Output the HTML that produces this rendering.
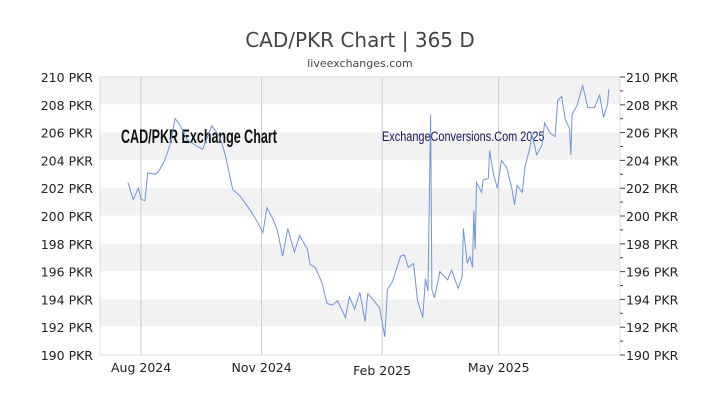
<!DOCTYPE html>
<html><head><meta charset="utf-8"><style>
body{margin:0;background:#fff;font-family:"Liberation Sans",sans-serif;}
svg text{font-family:"DejaVu Sans","Liberation Sans",sans-serif;}
</style></head><body>
<svg width="720" height="405" viewBox="0 0 720 405" xmlns="http://www.w3.org/2000/svg">
<rect width="720" height="405" fill="#fff"/>
<text x="360" y="47" text-anchor="middle" font-size="20" fill="#444">CAD/PKR Chart | 365 D</text>
<text x="360" y="67" text-anchor="middle" font-size="11" fill="#444">liveexchanges.com</text>
<g id="bands"></g>
<g id="grid"></g>
<rect x="100" y="77" width="520" height="278" fill="none" stroke="#ddd"/>
<g id="yaxis"></g>
<g id="xaxis"></g>
<text x="121" y="143" font-size="19" font-weight="bold" fill="#111" transform="translate(121 0) scale(0.66 1) translate(-121 0)" style="font-family:'Liberation Sans Narrow','Liberation Sans',sans-serif">CAD/PKR Exchange Chart</text>
<text x="382" y="141" font-size="14" fill="#1a1a5e" transform="translate(382 0) scale(0.78 1) translate(-382 0)" style="font-family:'Liberation Sans Narrow','Liberation Sans',sans-serif">ExchangeConversions.Com 2025</text>
<path id="line" fill="none" stroke="#7094dc" stroke-width="1"/>
</svg>
<script>
const days=[0,4,8,10,13,15,21,24,28,32,36,40,45,53,57,64,70,74,80,85,92,98,103,106,110,114,118,122,127,131,137,139,143,148,152,156,160,166,169,173,177,181,183,187,192,196,198,202,208,211,214,218,221,225,227,229,231,232,234,238,244,247,252,255,256,259,261,263,264,265,266,270,271,275,276,279,282,285,289,293,295,297,301,303,307,308,312,316,318,322,326,328,331,334,337,338,339,343,347,351,356,360,363,366,367];
const rates=[202.4,201.2,202.0,201.2,201.1,203.1,203.0,203.3,204.0,205.1,207.0,206.5,205.5,205.0,204.8,206.5,205.7,204.5,201.9,201.5,200.6,199.7,198.8,200.6,199.9,199.0,197.1,199.1,197.4,198.6,197.6,196.5,196.3,195.2,193.7,193.6,193.9,192.7,194.2,193.3,194.5,192.4,194.4,194.0,193.4,191.3,194.7,195.3,197.1,197.2,196.3,196.6,193.9,192.7,195.5,194.6,207.3,194.7,194.1,196.0,195.4,196.1,194.8,195.6,199.1,196.6,197.1,196.3,200.4,197.6,202.4,201.7,202.6,202.7,204.7,203.0,202.0,204.0,203.5,202.0,200.8,202.2,201.7,203.5,205.0,206.0,204.4,205.1,206.7,206.0,205.7,208.3,208.6,206.9,206.3,204.4,207.3,208.0,209.4,207.8,207.8,208.7,207.1,208.0,209.1];
const yTicks=[190,192,194,196,198,200,202,204,206,208,210];
const monthDays=[10,102,194,283];
const monthLabels=["Aug 2024","Nov 2024","Feb 2025","May 2025"];
const NS="http://www.w3.org/2000/svg";
const X=d=>128+d*1.31;
const Y=v=>355-(v-190)*13.9;
function mk(tag,attrs,parent,txt){const e=document.createElementNS(NS,tag);for(const k in attrs)e.setAttribute(k,attrs[k]);if(txt!==undefined)e.textContent=txt;document.getElementById(parent).appendChild(e);return e;}
yTicks.forEach((t,i)=>{
  if(i<yTicks.length-1&&i%2===1){const b=mk('rect',{x:100,y:Y(t+2),width:520,height:Y(t)-Y(t+2)-0.5,fill:'#f2f2f2'},'bands');
  
  }
  const l=mk('text',{x:93,y:Y(t)+5,'text-anchor':'end','font-size':12.5,fill:'#222'},'yaxis',t+' PKR');
  
  
  const r=mk('text',{x:626,y:Y(t)+5,'font-size':12.5,fill:'#222'},'yaxis',t+' PKR');
  
  
});
for(let v=190;v<=210;v++){const tk=mk('line',{x1:620,x2:v%2===0?625:623,y1:Y(v),y2:Y(v),stroke:'#444'},'yaxis');

}
monthDays.forEach((d,i)=>{
  const g=mk('line',{x1:X(d),x2:X(d),y1:77,y2:355,stroke:'#ccc'},'grid');
  
  
  const t=mk('text',{x:X(d),y:i===2?375:372,'text-anchor':'middle','font-size':12.5,fill:'#222'},'xaxis',monthLabels[i]);
  
  
});
document.getElementById('line').setAttribute('d',days.map((d,i)=>(i?'L':'M')+X(d).toFixed(1)+' '+Y(rates[i]).toFixed(1)).join(' '));
</script>
</body></html>
